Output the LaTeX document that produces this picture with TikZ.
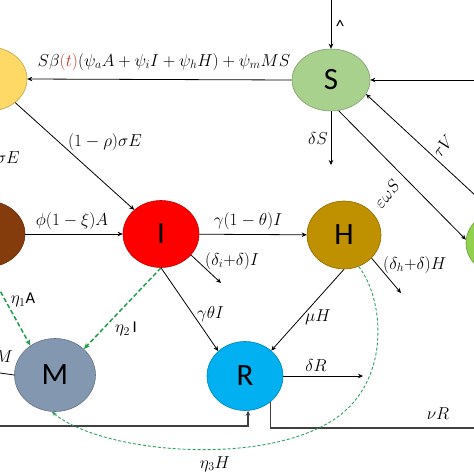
\documentclass[tikz,border=0pt]{standalone}
\usepackage{fontspec}
\setsansfont{Carlito}
\usetikzlibrary{shapes.geometric,arrows.meta}
\definecolor{cE}{HTML}{FFD966}
\definecolor{cS}{HTML}{A9D18E}
\definecolor{cA}{HTML}{843C0C}
\definecolor{cI}{HTML}{FF0000}
\definecolor{cH}{HTML}{BF9000}
\definecolor{cV}{HTML}{92D050}
\definecolor{cM}{HTML}{8497B0}
\definecolor{cR}{HTML}{00B0F0}
\definecolor{gdk}{HTML}{1E9E4A}
\definecolor{gln}{HTML}{2BA25E}
\definecolor{tred}{HTML}{C0392B}
\definecolor{lgray}{HTML}{404040}
\begin{document}
\begin{tikzpicture}[x=1pt,y=-1pt,
  comp/.style={ellipse, draw=#1!75!black, fill=#1, line width=0.6pt, inner sep=0pt,
    font=\sffamily\fontsize{31}{31}\selectfont},
  arr/.style={draw=black, line width=0.8pt, -{Stealth[length=5pt,width=4.5pt]}},
  plain/.style={draw=black, line width=0.8pt},
  bline/.style={draw=lgray, line width=1.3pt},
  gthick/.style={draw=gdk, line width=1.5pt, dash pattern=on 4.5pt off 2.5pt, -{Stealth[length=6pt,width=5pt]}},
  gthin/.style={draw=gln, line width=0.9pt, dash pattern=on 3pt off 2pt, -{Stealth[length=5pt,width=4pt]}},
  lab/.style={font=\fontsize{16.5}{19}\selectfont, inner sep=1pt}
]
\useasboundingbox (0,0) rectangle (474,474);
\clip (0,0) rectangle (474,474);
\fill[white] (0,0) rectangle (474,474);

% compartments
\node[comp=cE, minimum width=76pt, minimum height=64pt] (E) at (-11,79) {};
\node[comp=cS, minimum width=78pt, minimum height=62pt] (S) at (331,80) {S};
\node[comp=cA, minimum width=76pt, minimum height=66pt] (A) at (-13,234) {};
\node[comp=cI, minimum width=76pt, minimum height=67pt] (I) at (161,234) {I};
\node[comp=cH, minimum width=74pt, minimum height=68pt] (H) at (344,235) {H};
\node[comp=cV, minimum width=76pt, minimum height=66pt] (V) at (504,243) {};
\node[comp=cM, minimum width=81pt, minimum height=73pt] (M) at (55,375) {M};
\node[comp=cR, minimum width=76pt, minimum height=69pt] (R) at (245,376) {R};

% free ends
\coordinate (lam) at (331,0);
\coordinate (rin) at (474,80);
\coordinate (dS) at (331,165);
\coordinate (dI) at (221,283);
\coordinate (dH) at (401,293);
\coordinate (dR) at (363,376);
\coordinate (nuR) at (474,428);
\coordinate (lb) at (0,426);
\coordinate (lm) at (0,373);

% black flows
\draw[arr] (lam) -- (S.north);
\node[font=\sffamily\fontsize{18}{18}\selectfont, inner sep=0pt] (lLam) at (340,26) {\textasciicircum};
\draw[arr] (rin) -- (S.east);
\draw[arr] (S.west) -- (E.east);
\node[lab] (lInf) at (164,62) {$S\beta{\color{tred}(t)}(\psi_aA+\psi_iI+\psi_hH)+\psi_mMS$};
\draw[arr] (S.south) -- (dS);
\node[lab] (ldS) at (318,138) {$\delta S$};
\draw[arr] (V.110) -- (S.-22);
\node[lab, rotate=50] (ltV) at (443,146) {$\tau V$};
\draw[arr] (S.-76) -- (V.175);
\node[lab, rotate=50] (leS) at (387,194) {$\varepsilon\omega S$};
\draw[arr] (E) -- (I);
\node[lab] (lEI) at (105,142) {$(1-\rho)\sigma E$};
\node[lab, anchor=east] (lEA) at (21,158) {$\sigma E$};
\draw[arr] (A) -- (I);
\node[lab] (lAI) at (72,221) {$\phi(1-\xi)A$};
\draw[arr] (I) -- (H);
\node[lab] (lIH) at (248,221) {$\gamma(1-\theta)I$};
\draw[arr] (I.-35) -- (dI);
\node[lab, anchor=west] (ldI) at (204,261) {$(\delta_i{+}\delta)I$};
\draw[arr] (H.-40) -- (dH);
\node[lab, anchor=west] (ldH) at (382,265) {$(\delta_h{+}\delta)H$};
\draw[arr] (I.south) -- (R.137);
\node[lab, anchor=west] (lIR) at (196,314) {$\gamma\theta I$};
\draw[arr] (H.south) -- (R.44);
\node[lab, anchor=west] (lHR) at (304,317) {$\mu H$};
\draw[arr] (R.east) -- (dR);
\node[lab] (ldR) at (316,365) {$\delta R$};
\draw[bline] (R.-45) |- (nuR);
\node[lab] (lnR) at (438,414) {$\nu R$};
\draw[bline, -{Stealth[length=5pt,width=4.5pt]}] (lb) -| (R.-85);
\draw[plain] (lm) -- (M.west);
\node[lab, anchor=east] (lM) at (14,357) {$M$};

% green dashed flows
\draw[gthick] (A.south) -- (M.130);
\node[lab] (l1) at (23,300) {$\eta_1$\sffamily A};
\draw[gthick] (I.south) -- (M.42);
\node[lab] (l2) at (126,329) {$\eta_2$\,\sffamily I};
\draw[gthin] (H.-65) .. controls (385,300) and (392,385) .. (330,422)
  .. controls (255,467) and (100,452) .. (M.-95);
\node[lab] (l3) at (215,464) {$\eta_3H$};
\end{tikzpicture}
\end{document}
